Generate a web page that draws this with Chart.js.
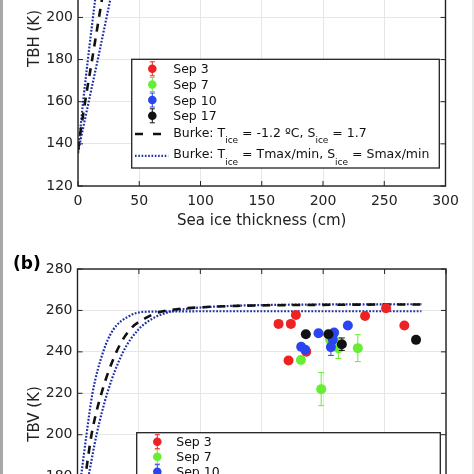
<!DOCTYPE html>
<html>
<head>
<meta charset="utf-8">
<script src="https://cdn.jsdelivr.net/npm/chart.js@4.4.1/dist/chart.umd.min.js"></script>
<style>
html, body { margin:0; padding:0; background:#fff; }
body { width:474px; height:474px; overflow:hidden; position:relative; }
.panel { position:absolute; left:0; width:474px; }
#panelA { top:-130px; height:360px; }
#panelB { top:250px; height:353px; }
#labelB { position:absolute; left:13px; top:254px; font:bold 17px 'DejaVu Sans', sans-serif; line-height:18px; color:#000; }
#edgeL { position:absolute; left:0; top:0; width:3px; height:474px; background:#a8a8a8; }
#edgeR { position:absolute; right:0; top:0; width:2px; height:474px; background:#e9e9e9; }
</style>
</head>
<body>
<div class="panel" id="panelA"><canvas id="chartA"></canvas></div>
<div class="panel" id="panelB"><canvas id="chartB"></canvas></div>
<div id="labelB">(b)</div>
<div id="edgeL"></div><div id="edgeR"></div>
<script>
// ---------------- data ----------------
const xTicks = [0, 50, 100, 150, 200, 250, 300];
const tbhTicks = [120, 140, 160, 180, 200, 220, 240, 260];
const tbvTicks = [140, 160, 180, 200, 220, 240, 260, 280];

const seriesNames = ['Sep 3', 'Sep 7', 'Sep 10', 'Sep 17'];
const modelLabelA = [['Burke: T', ''], ['ice', 'sub'], [' = -1.2 ºC, S', ''], ['ice', 'sub'], [' = 1.7', '']];
const modelLabelB = [['Burke: T', ''], ['ice', 'sub'], [' = Tmax/min, S', ''], ['ice', 'sub'], [' = Smax/min', '']];

// panel (a): TBH model curves (thickness cm, K)
const tbhDashX = [0, 1.1, 6, 11.4, 19.4, 24];
const tbhDashY = [137, 141.7, 160.7, 179.6, 208, 224];
const tbhDotFastX = [0, 1.6, 4.3, 8, 13.9, 17];
const tbhDotFastY = [135.5, 145, 160.7, 179.6, 208, 222];
const tbhDotSlowX = [0, 9, 16, 26.2, 31];
const tbhDotSlowY = [136, 160.7, 179.6, 208, 221];

// panel (b): TBV model curves
const tbvDashX = [0, 6.8, 11.4, 19.5, 31.7, 42.5, 56.1, 65.6, 80.5, 100, 130, 200, 280];
const tbvDashY = [155, 181.6, 200, 220, 240, 250.6, 256.5, 259, 260.6, 261.5, 262.2, 262.7, 262.9];
const tbvDotFastX = [0, 3.3, 7.3, 12.2, 20.9, 29, 41.2, 53.4, 75, 100, 150, 280];
const tbvDotFastY = [166, 181.6, 200, 220, 240, 250.6, 257, 259.3, 259.5, 259.6, 259.6, 259.6];
const tbvDotSlowX = [0, 9.5, 15.5, 24.2, 37.2, 49.3, 61.5, 71, 85, 100, 130, 180, 280];
const tbvDotSlowY = [152, 181.6, 200, 220, 240, 250.6, 256.2, 258.6, 260.5, 261.4, 262.3, 262.8, 263];

// panel (b): TBV observations
const sep3X = [163.7, 173.7, 177.8, 171.8, 186.2, 234.1, 251.2, 266.1];
const sep3Y = [253.5, 253.5, 257.8, 235.8, 240.1, 257.3, 261.1, 252.7];
const sep3Err = [1.5, 1.5, 1.5, 1.5, 1.5, 1.5, 1.5, 1.5];
const sep7X = [181.9, 198.4, 205.7, 212.4, 228.2];
const sep7Y = [236.1, 222, 245.8, 241.8, 241.8];
const sep7Err = [1.5, 8, 2, 5, 6.5];
const sep10X = [182.1, 185.4, 196.2, 206.3, 207.9, 208.9, 220.1];
const sep10Y = [242.5, 241, 249, 242.3, 245.8, 249.3, 252.7];
const sep10Err = [1.5, 1.5, 1.5, 4, 1.5, 1.5, 1.5];
const sep17X = [185.9, 204.3, 215.2, 275.6];
const sep17Y = [248.5, 248.5, 243.7, 245.8];
const sep17Err = [1.5, 1.5, 3, 1.5];

// ---------------- styling ----------------
const FONT = "'DejaVu Sans', sans-serif";
const RED = '#ee2222', GREEN = '#66ee33', BLUE = '#2a45f0', BLACK = '#111111', NAVY = '#1f2fa5';
const DASH = [8, 7], DOT = [1.8, 1.6];

function pts(xs, ys) { return xs.map((x, i) => ({ x: x, y: ys[i] })); }

function pointSet(name, color, xs, ys, errs, order, row) {
  return { label: name, data: (xs ? pts(xs, ys) : []), errors: errs, backgroundColor: color, borderColor: color,
    borderWidth: 0, pointRadius: 5, pointHoverRadius: 5, showLine: false, order: order, legendRow: row, legendType: 'point' };
}
function curveSet(parts, color, dash, legendDash, xs, ys, row) {
  return { label: parts.map(p => p[0]).join(''), legendParts: parts, data: pts(xs, ys), borderColor: color, backgroundColor: color,
    borderWidth: (color === BLACK ? 2.6 : 2.2), borderDash: dash, legendDash: legendDash, pointRadius: 0, showLine: true,
    cubicInterpolationMode: 'monotone', order: 10, legendRow: row, legendType: 'line', fill: false };
}

const errorBarPlugin = {
  id: 'errorBars',
  beforeDatasetDraw(chart, args) {
    const ds = chart.data.datasets[args.index];
    if (!ds.errors || !ds.data.length) return;
    const ctx = chart.ctx, a = chart.chartArea, xs = chart.scales.x, ys = chart.scales.y;
    ctx.save();
    ctx.beginPath(); ctx.rect(a.left, a.top, a.right - a.left, a.bottom - a.top); ctx.clip();
    ctx.strokeStyle = ds.backgroundColor; ctx.lineWidth = 1;
    ds.data.forEach((p, i) => {
      const e = ds.errors[i];
      const px = xs.getPixelForValue(p.x);
      const y1 = ys.getPixelForValue(p.y - e), y2 = ys.getPixelForValue(p.y + e);
      ctx.beginPath();
      ctx.moveTo(px, y1); ctx.lineTo(px, y2);
      ctx.moveTo(px - 3, y1); ctx.lineTo(px + 3, y1);
      ctx.moveTo(px - 3, y2); ctx.lineTo(px + 3, y2);
      ctx.stroke();
    });
    ctx.restore();
  }
};

const framePlugin = {
  id: 'frame',
  afterDatasetsDraw(chart) {
    const ctx = chart.ctx, a = chart.chartArea, xs = chart.scales.x, ys = chart.scales.y;
    ctx.save();
    ctx.strokeStyle = '#222'; ctx.lineWidth = 1.4;
    ctx.strokeRect(a.left, a.top, a.right - a.left, a.bottom - a.top);
    ctx.lineWidth = 1;
    const L = 5;
    ctx.beginPath();
    xs.ticks.forEach(t => { const p = xs.getPixelForValue(t.value); ctx.moveTo(p, a.bottom); ctx.lineTo(p, a.bottom - L); ctx.moveTo(p, a.top); ctx.lineTo(p, a.top + L); });
    ys.ticks.forEach(t => { const p = ys.getPixelForValue(t.value); ctx.moveTo(a.left, p); ctx.lineTo(a.left + L, p); ctx.moveTo(a.right, p); ctx.lineTo(a.right - L, p); });
    ctx.stroke();
    ctx.restore();
  }
};

const legendPlugin = {
  id: 'boxLegend',
  afterDraw(chart, args, o) {
    const ctx = chart.ctx;
    ctx.save();
    ctx.fillStyle = '#fff'; ctx.fillRect(o.left, o.top, o.right - o.left, o.bottom - o.top);
    ctx.lineWidth = 1.3; ctx.strokeStyle = '#222'; ctx.strokeRect(o.left, o.top, o.right - o.left, o.bottom - o.top);
    const items = chart.data.datasets.filter(d => d.legendRow !== undefined).sort((a, b) => a.legendRow - b.legendRow);
    items.forEach(ds => {
      const base = o.top + o.rows[ds.legendRow];
      if (ds.legendType === 'point') {
        const cy = base - 4.5, mx = o.left + o.markerDx;
        ctx.strokeStyle = ds.backgroundColor; ctx.lineWidth = 1;
        ctx.beginPath();
        ctx.moveTo(mx, cy - 7); ctx.lineTo(mx, cy + 7);
        ctx.moveTo(mx - 2.5, cy - 7); ctx.lineTo(mx + 2.5, cy - 7);
        ctx.moveTo(mx - 2.5, cy + 7); ctx.lineTo(mx + 2.5, cy + 7);
        ctx.stroke();
        ctx.fillStyle = ds.backgroundColor;
        ctx.beginPath(); ctx.arc(mx, cy, 4.3, 0, Math.PI * 2); ctx.fill();
      } else {
        const ly = base - 2.5;
        ctx.strokeStyle = ds.borderColor; ctx.lineWidth = ds.borderWidth;
        ctx.setLineDash(ds.legendDash);
        ctx.beginPath(); ctx.moveTo(o.left + 3.3, ly); ctx.lineTo(o.left + 36.5, ly); ctx.stroke();
        ctx.setLineDash([]);
      }
      ctx.fillStyle = '#111'; ctx.textBaseline = 'alphabetic'; ctx.textAlign = 'left';
      let x = o.left + o.textDx;
      const parts = ds.legendParts || [[ds.label, '']];
      parts.forEach(p => {
        if (p[1] === 'sub') {
          ctx.font = '9px ' + FONT;
          ctx.fillText(p[0], x, base + 6.6);
        } else {
          ctx.font = '12.5px ' + FONT;
          ctx.fillText(p[0], x, base);
        }
        x += ctx.measureText(p[0]).width;
      });
    });
    ctx.restore();
  }
};

function makeScales(yTicks, yTitle, yMin, yMax, yWidth) {
  return {
    x: {
      type: 'linear', min: 0, max: 300,
      afterBuildTicks: s => { s.ticks = xTicks.map(v => ({ value: v })); },
      afterFit: s => { s.height = 44; },
      grid: { color: '#e6e6e6', drawTicks: false, lineWidth: 1 },
      border: { display: false },
      ticks: { font: { family: FONT, size: 14 }, color: '#222', padding: 7, maxRotation: 0, autoSkip: false },
      title: { display: true, text: 'Sea ice thickness (cm)', font: { family: FONT, size: 15 }, color: '#222', padding: { top: 0, bottom: 0 } }
    },
    y: {
      type: 'linear', min: yMin, max: yMax,
      afterBuildTicks: s => { s.ticks = yTicks.map(v => ({ value: v })); },
      afterFit: s => { s.width = yWidth; },
      grid: { color: '#e6e6e6', drawTicks: false, lineWidth: 1 },
      border: { display: false },
      ticks: { font: { family: FONT, size: 14 }, color: '#222', padding: 5, autoSkip: false },
      title: { display: true, text: yTitle, font: { family: FONT, size: 15 }, color: '#222', padding: { top: 26, bottom: 0 } }
    }
  };
}

// ---------------- chart (a) ----------------
new Chart(document.getElementById('chartA'), {
  type: 'scatter',
  data: { datasets: [
    pointSet(seriesNames[0], RED, null, null, null, 4, 0),
    pointSet(seriesNames[1], GREEN, null, null, null, 3, 1),
    pointSet(seriesNames[2], BLUE, null, null, null, 2, 2),
    pointSet(seriesNames[3], BLACK, null, null, null, 1, 3),
    curveSet(modelLabelA, BLACK, DASH, [8, 10], tbhDashX, tbhDashY, 4),
    curveSet(modelLabelB, NAVY, DOT, [1.6, 1.7], tbhDotFastX, tbhDotFastY, 5),
    curveSet(modelLabelB, NAVY, DOT, [1.6, 1.7], tbhDotSlowX, tbhDotSlowY, undefined)
  ]},
  options: {
    responsive: true, maintainAspectRatio: false, animation: false, events: [],
    layout: { padding: { top: 21, right: 28.5, bottom: 0, left: 0 } },
    scales: makeScales(tbhTicks, 'TBH (K)', 120, 260, 78),
    plugins: { legend: { display: false }, tooltip: { enabled: false },
      boxLegend: { left: 131.7, top: 189.3, right: 439.3, bottom: 298, markerDx: 20.6, textDx: 41.5, rows: [14, 29.7, 45.2, 61, 77.2, 99] } }
  },
  plugins: [errorBarPlugin, framePlugin, legendPlugin]
});

// ---------------- chart (b) ----------------
new Chart(document.getElementById('chartB'), {
  type: 'scatter',
  data: { datasets: [
    pointSet(seriesNames[0], RED, sep3X, sep3Y, sep3Err, 4, 0),
    pointSet(seriesNames[1], GREEN, sep7X, sep7Y, sep7Err, 3, 1),
    pointSet(seriesNames[2], BLUE, sep10X, sep10Y, sep10Err, 2, 2),
    pointSet(seriesNames[3], BLACK, sep17X, sep17Y, sep17Err, 1, 3),
    curveSet(modelLabelA, BLACK, DASH, [8, 10], tbvDashX, tbvDashY, 4),
    curveSet(modelLabelB, NAVY, DOT, [1.6, 1.7], tbvDotFastX, tbvDotFastY, 5),
    curveSet(modelLabelB, NAVY, DOT, [1.6, 1.7], tbvDotSlowX, tbvDotSlowY, undefined)
  ]},
  options: {
    responsive: true, maintainAspectRatio: false, animation: false, events: [],
    layout: { padding: { top: 19, right: 28, bottom: 0, left: 0 } },
    scales: makeScales(tbvTicks, 'TBV (K)', 140, 280, 77.5),
    plugins: { legend: { display: false }, tooltip: { enabled: false },
      boxLegend: { left: 136.7, top: 182.7, right: 440.3, bottom: 292, markerDx: 20.6, textDx: 39.5, rows: [13.5, 28.5, 43.5, 58.5, 74.5, 96.5] } }
  },
  plugins: [errorBarPlugin, framePlugin, legendPlugin]
});
</script>
</body>
</html>
